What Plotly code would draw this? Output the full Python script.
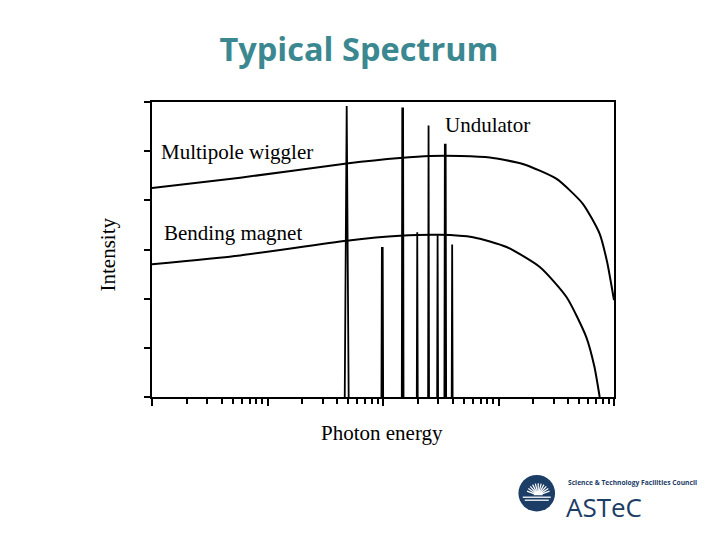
import numpy as np
import plotly.graph_objects as go

# photon energy is in arbitrary units, 4 decades (1 .. 1e4); intensity 0..6 (arb.)
wiggler_logx = [0.0, 0.764, 1.686, 2.147, 2.41, 2.67, 2.925, 3.21, 3.50, 3.73, 3.876, 3.94, 4.0]
wiggler_y = [4.25, 4.46, 4.75, 4.86, 4.90, 4.90, 4.87, 4.74, 4.44, 3.93, 3.32, 2.75, 1.97]

bending_logx = [0.0, 0.764, 1.686, 2.147, 2.49, 2.78, 3.07, 3.36, 3.59, 3.76, 3.83, 3.876]
bending_y = [2.70, 2.88, 3.18, 3.28, 3.30, 3.25, 3.05, 2.64, 2.03, 1.22, 0.62, 0.0]

# undulator harmonics (peak position, peak height)
undulator_x = [48.5, 98.6, 148.0, 198.0, 248.0, 297.0, 346.0, 397.0]
undulator_y = [5.92, 3.05, 5.89, 3.35, 5.52, 3.29, 5.15, 3.10]

teal = "#3b8890"
navy = "#1c3d66"

# the page body has an 8px margin, so work in page pixels and shift back
OFF = 8
L, R, T, B = 151.7, 614.0, 101.7, 397.0   # plot frame in page pixels
PW, PH = R - L, B - T


def px(xp):
    return (xp - L) / PW


def py(yp):
    return (B - yp) / PH


fig = go.Figure()

fig.add_trace(go.Scatter(
    x=np.power(10, wiggler_logx), y=wiggler_y, mode="lines",
    line=dict(color="black", width=2, shape="spline", smoothing=0.6),
    hoverinfo="skip",
))
fig.add_trace(go.Scatter(
    x=np.power(10, bending_logx), y=bending_y, mode="lines",
    line=dict(color="black", width=2, shape="spline", smoothing=0.6),
    hoverinfo="skip",
))

# each harmonic drawn as a narrow spike; the fundamental is a bit wider
for i, (xp, h) in enumerate(zip(undulator_x, undulator_y)):
    half = 0.017 if i == 0 else 0.004
    lw = 1.8 if i in (0, 3, 4, 5, 7) else 2.6
    fig.add_trace(go.Scatter(
        x=[xp * 10 ** -half, xp, xp * 10 ** half],
        y=[0, h, 0],
        mode="lines",
        line=dict(color="black", width=lw),
        hoverinfo="skip",
    ))

serif = "Liberation Serif, Times New Roman, serif"

fig.update_layout(
    width=720 - OFF,
    height=540 - OFF,
    margin=dict(l=L - OFF, r=720 - R, t=T - OFF, b=540 - B),
    paper_bgcolor="white",
    plot_bgcolor="white",
    showlegend=False,
    title=dict(
        text="<b>Typical Spectrum</b>",
        font=dict(family="Open Sans, sans-serif", size=32.5, color=teal),
        x=(359 - OFF) / (720 - OFF), xanchor="center",
        y=1 - (50 - OFF) / (540 - OFF), yanchor="middle", yref="container",
    ),
)

fig.update_xaxes(
    type="log", range=[0, 4],
    showgrid=False, zeroline=False,
    showline=True, linecolor="black", linewidth=2, mirror=True,
    dtick=1, ticks="outside", ticklen=7, tickwidth=2, tickcolor="black",
    showticklabels=False,
    minor=dict(dtick="D1", ticks="outside", ticklen=5, tickwidth=2, tickcolor="black"),
)
fig.update_yaxes(
    range=[0, 6],
    showgrid=False, zeroline=False,
    showline=True, linecolor="black", linewidth=2, mirror=True,
    dtick=1, ticks="outside", ticklen=6, tickwidth=2, tickcolor="black",
    showticklabels=False,
)

labels = [
    ("Multipole wiggler", 159, 152),
    ("Bending magnet", 162, 232.5),
    ("Undulator", 442.5, 125),
]
for txt, xx, yy in labels:
    fig.add_annotation(
        text=txt, xref="paper", yref="paper", x=px(xx), y=py(yy),
        xanchor="left", yanchor="middle", showarrow=False,
        font=dict(family=serif, size=21, color="black"),
    )

fig.add_annotation(
    text="Intensity", xref="paper", yref="paper",
    x=px(108), y=py(254), xanchor="center", yanchor="middle",
    textangle=-90, showarrow=False,
    font=dict(family=serif, size=21, color="black"),
)
fig.add_annotation(
    text="Photon energy", xref="paper", yref="paper",
    x=px(381.7), y=py(433), xanchor="center", yanchor="middle",
    showarrow=False,
    font=dict(family=serif, size=21, color="black"),
)

# ASTeC logo (bottom right)
ax, ay = px(536.7), py(493.3)
r = 18.3


def logo_shape(**kw):
    fig.add_shape(
        xref="paper", yref="paper",
        xsizemode="pixel", ysizemode="pixel", xanchor=ax, yanchor=ay,
        layer="above", **kw,
    )


logo_shape(type="circle", x0=-r, x1=r, y0=-r, y1=r,
           fillcolor=navy, line=dict(width=0))
# sun rays over the horizon
ox, oy = 1.5, -2.0
for ang in np.linspace(20, 160, 11):
    a = np.radians(ang)
    logo_shape(type="line",
               x0=ox + 4 * np.cos(a), y0=oy + 4 * np.sin(a),
               x1=ox + 12 * np.cos(a), y1=oy + 12 * np.sin(a),
               line=dict(color="white", width=1.2))
logo_shape(type="circle", x0=ox - 4.5, x1=ox + 4.5, y0=oy - 4.5, y1=oy + 4.5,
           fillcolor="white", line=dict(width=0))
logo_shape(type="rect", x0=-14, x1=16, y0=-9, y1=oy,
           fillcolor=navy, line=dict(width=0))
for yy, half in [(-4.0, 14), (-7.0, 12)]:
    logo_shape(type="line", x0=-half, x1=half, y0=yy, y1=yy,
               line=dict(color="white", width=1.3))

fig.add_annotation(
    text="<b>Science &amp; Technology Facilities Council</b>",
    xref="paper", yref="paper", x=px(567), y=py(482.5),
    xanchor="left", yanchor="middle", showarrow=False, borderpad=0,
    font=dict(family="Open Sans, sans-serif", size=6.7, color=navy),
)
fig.add_annotation(
    text="ASTeC",
    xref="paper", yref="paper", x=px(565), y=py(507),
    xanchor="left", yanchor="middle", showarrow=False, borderpad=0,
    font=dict(family="Open Sans, sans-serif", size=26, color=navy),
)

fig.write_html("out.html")
